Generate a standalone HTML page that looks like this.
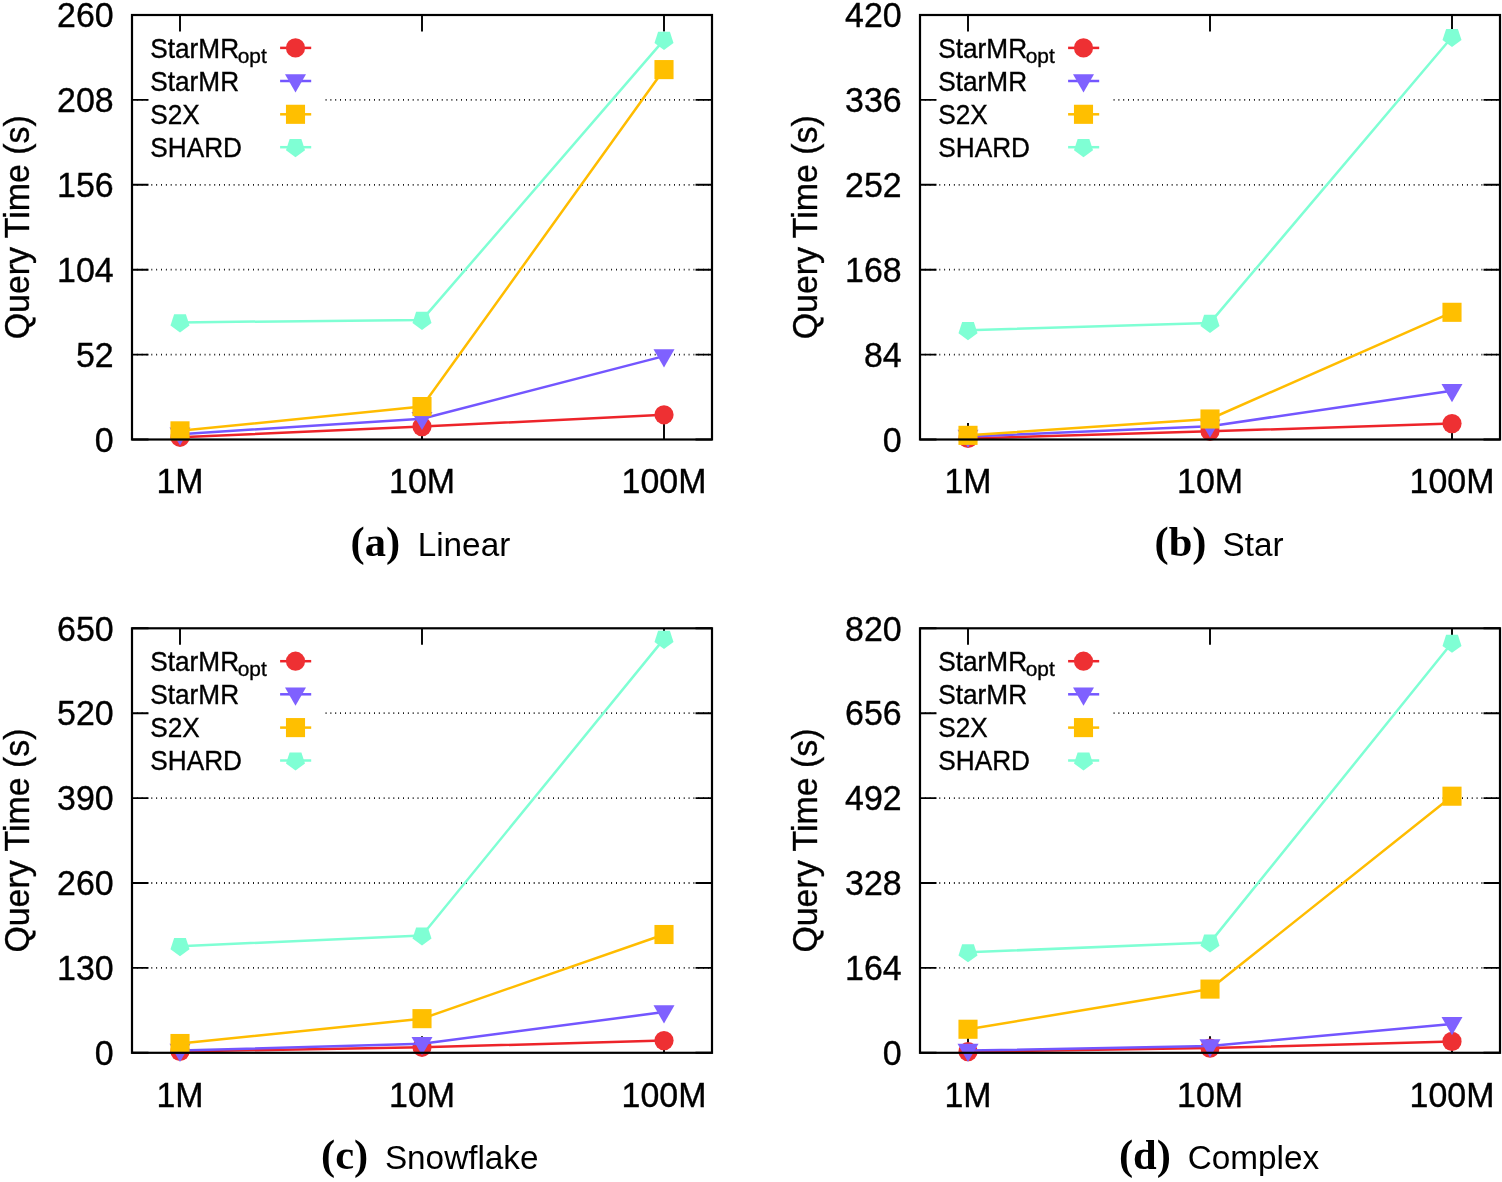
<!DOCTYPE html>
<html><head><meta charset="utf-8"><title>Query Time</title>
<style>html,body{margin:0;padding:0;background:#fff}svg{display:block}text{font-family:"Liberation Sans",sans-serif;fill:#000}text.t{stroke:#000;stroke-width:0.35px}text.cap{font-family:"Liberation Serif",serif;font-weight:bold}</style>
</head><body>
<svg width="1502" height="1182" viewBox="0 0 1502 1182">
<rect width="1502" height="1182" fill="#fff"/>
<g>
<line x1="132" y1="354.60" x2="712" y2="354.60" stroke="#000" stroke-width="1.8" stroke-dasharray="0.9 3.94" stroke-dashoffset="0"/>
<line x1="132" y1="269.70" x2="712" y2="269.70" stroke="#000" stroke-width="1.8" stroke-dasharray="0.9 3.94" stroke-dashoffset="0"/>
<line x1="132" y1="184.80" x2="712" y2="184.80" stroke="#000" stroke-width="1.8" stroke-dasharray="0.9 3.94" stroke-dashoffset="0"/>
<line x1="132" y1="99.90" x2="712" y2="99.90" stroke="#000" stroke-width="1.8" stroke-dasharray="0.9 3.94" stroke-dashoffset="0"/>
<rect x="149" y="32" width="175" height="133" fill="#fff"/>
<path d="M132 439.50h16.5M712 439.50h-16.5" stroke="#000" stroke-width="1.9" fill="none"/>
<path d="M132 354.60h16.5M712 354.60h-16.5" stroke="#000" stroke-width="1.9" fill="none"/>
<path d="M132 269.70h16.5M712 269.70h-16.5" stroke="#000" stroke-width="1.9" fill="none"/>
<path d="M132 184.80h16.5M712 184.80h-16.5" stroke="#000" stroke-width="1.9" fill="none"/>
<path d="M132 99.90h16.5M712 99.90h-16.5" stroke="#000" stroke-width="1.9" fill="none"/>
<path d="M132 15.00h16.5M712 15.00h-16.5" stroke="#000" stroke-width="1.9" fill="none"/>
<path d="M180 439.5v-16.5M180 15v16.5" stroke="#000" stroke-width="1.9" fill="none"/>
<path d="M422 439.5v-16.5M422 15v16.5" stroke="#000" stroke-width="1.9" fill="none"/>
<path d="M664 439.5v-16.5M664 15v16.5" stroke="#000" stroke-width="1.9" fill="none"/>
<path d="M180 437.30 L422 426.60 L664 414.80" stroke="#ED242A" stroke-width="2.5" fill="none" stroke-linejoin="round"/>
<circle cx="180.00" cy="437.30" r="9.6" fill="#EE3033"/>
<circle cx="422.00" cy="426.60" r="9.6" fill="#EE3033"/>
<circle cx="664.00" cy="414.80" r="9.6" fill="#EE3033"/>
<path d="M180 434.20 L422 418.70 L664 356.10" stroke="#7356FF" stroke-width="2.5" fill="none" stroke-linejoin="round"/>
<polygon points="169.50,427.40 190.50,427.40 180.00,445.60" fill="#7F61FF"/>
<polygon points="411.50,411.90 432.50,411.90 422.00,430.10" fill="#7F61FF"/>
<polygon points="653.50,349.30 674.50,349.30 664.00,367.50" fill="#7F61FF"/>
<path d="M180 430.85 L422 406.55 L664 69.60" stroke="#FFBC00" stroke-width="2.5" fill="none" stroke-linejoin="round"/>
<rect x="170.45" y="421.30" width="19.1" height="19.1" fill="#FFBF00"/>
<rect x="412.45" y="397.00" width="19.1" height="19.1" fill="#FFBF00"/>
<rect x="654.45" y="60.05" width="19.1" height="19.1" fill="#FFBF00"/>
<path d="M180 322.40 L422 319.90 L664 39.90" stroke="#7FFFD4" stroke-width="2.5" fill="none" stroke-linejoin="round"/>
<polygon points="180.00,332.40 170.49,325.49 174.12,314.31 185.88,314.31 189.51,325.49" fill="#7FFFD4"/>
<polygon points="422.00,329.90 412.49,322.99 416.12,311.81 427.88,311.81 431.51,322.99" fill="#7FFFD4"/>
<polygon points="664.00,49.90 654.49,42.99 658.12,31.81 669.88,31.81 673.51,42.99" fill="#7FFFD4"/>
<rect x="132" y="15" width="580" height="424.5" fill="none" stroke="#000" stroke-width="2.2"/>
<text class="t" transform="translate(150.3 57.85) scale(1 1.045)" font-size="26.2">StarMR</text>
<text class="t" x="237.7" y="62.60" font-size="20.9">opt</text>
<path d="M280.1 47.90h31.1" stroke="#ED242A" stroke-width="2.5" fill="none"/>
<circle cx="295.50" cy="47.90" r="9.6" fill="#EE3033"/>
<text class="t" transform="translate(150.3 90.85) scale(1 1.045)" font-size="26.2">StarMR</text>
<path d="M280.1 81.00h31.1" stroke="#7356FF" stroke-width="2.5" fill="none"/>
<polygon points="285.00,74.20 306.00,74.20 295.50,92.40" fill="#7F61FF"/>
<text class="t" transform="translate(150.3 123.80) scale(1 1.045)" font-size="26.2">S2X</text>
<path d="M280.1 114.30h31.1" stroke="#FFBC00" stroke-width="2.5" fill="none"/>
<rect x="285.95" y="104.75" width="19.1" height="19.1" fill="#FFBF00"/>
<text class="t" transform="translate(150.3 156.70) scale(1 1.045)" font-size="26.2">SHARD</text>
<path d="M280.1 147.20h31.1" stroke="#7FFFD4" stroke-width="2.5" fill="none"/>
<polygon points="295.50,157.20 285.99,150.29 289.62,139.11 301.38,139.11 305.01,150.29" fill="#7FFFD4"/>
<text class="t" transform="translate(113.6 451.70) scale(1 1.045)" font-size="33.9" text-anchor="end">0</text>
<text class="t" transform="translate(113.6 366.80) scale(1 1.045)" font-size="33.9" text-anchor="end">52</text>
<text class="t" transform="translate(113.6 281.90) scale(1 1.045)" font-size="33.9" text-anchor="end">104</text>
<text class="t" transform="translate(113.6 197.00) scale(1 1.045)" font-size="33.9" text-anchor="end">156</text>
<text class="t" transform="translate(113.6 112.10) scale(1 1.045)" font-size="33.9" text-anchor="end">208</text>
<text class="t" transform="translate(113.6 27.20) scale(1 1.045)" font-size="33.9" text-anchor="end">260</text>
<text class="t" transform="translate(180 493.40) scale(1 1.045)" font-size="33.9" text-anchor="middle">1M</text>
<text class="t" transform="translate(422 493.40) scale(1 1.045)" font-size="33.9" text-anchor="middle">10M</text>
<text class="t" transform="translate(664 493.40) scale(1 1.045)" font-size="33.9" text-anchor="middle">100M</text>
<text transform="translate(28.6 227.25) rotate(-90) scale(1 1.02)" class="t" font-size="33.9" text-anchor="middle">Query Time (s)</text>
<text x="350.5" y="555.90" font-size="42.5" class="cap">(a)</text>
<text x="417.7" y="555.90" font-size="33.3">Linear</text>
</g>
<g>
<line x1="920" y1="354.60" x2="1500" y2="354.60" stroke="#000" stroke-width="1.8" stroke-dasharray="0.9 3.94" stroke-dashoffset="0"/>
<line x1="920" y1="269.70" x2="1500" y2="269.70" stroke="#000" stroke-width="1.8" stroke-dasharray="0.9 3.94" stroke-dashoffset="0"/>
<line x1="920" y1="184.80" x2="1500" y2="184.80" stroke="#000" stroke-width="1.8" stroke-dasharray="0.9 3.94" stroke-dashoffset="0"/>
<line x1="920" y1="99.90" x2="1500" y2="99.90" stroke="#000" stroke-width="1.8" stroke-dasharray="0.9 3.94" stroke-dashoffset="0"/>
<rect x="937" y="32" width="175" height="133" fill="#fff"/>
<path d="M920 439.50h16.5M1500 439.50h-16.5" stroke="#000" stroke-width="1.9" fill="none"/>
<path d="M920 354.60h16.5M1500 354.60h-16.5" stroke="#000" stroke-width="1.9" fill="none"/>
<path d="M920 269.70h16.5M1500 269.70h-16.5" stroke="#000" stroke-width="1.9" fill="none"/>
<path d="M920 184.80h16.5M1500 184.80h-16.5" stroke="#000" stroke-width="1.9" fill="none"/>
<path d="M920 99.90h16.5M1500 99.90h-16.5" stroke="#000" stroke-width="1.9" fill="none"/>
<path d="M920 15.00h16.5M1500 15.00h-16.5" stroke="#000" stroke-width="1.9" fill="none"/>
<path d="M968 439.5v-16.5M968 15v16.5" stroke="#000" stroke-width="1.9" fill="none"/>
<path d="M1210 439.5v-16.5M1210 15v16.5" stroke="#000" stroke-width="1.9" fill="none"/>
<path d="M1452 439.5v-16.5M1452 15v16.5" stroke="#000" stroke-width="1.9" fill="none"/>
<path d="M968 438.40 L1210 431.30 L1452 423.60" stroke="#ED242A" stroke-width="2.5" fill="none" stroke-linejoin="round"/>
<circle cx="968.00" cy="438.40" r="9.6" fill="#EE3033"/>
<circle cx="1210.00" cy="431.30" r="9.6" fill="#EE3033"/>
<circle cx="1452.00" cy="423.60" r="9.6" fill="#EE3033"/>
<path d="M968 436.60 L1210 426.20 L1452 390.80" stroke="#7356FF" stroke-width="2.5" fill="none" stroke-linejoin="round"/>
<polygon points="957.50,429.80 978.50,429.80 968.00,448.00" fill="#7F61FF"/>
<polygon points="1199.50,419.40 1220.50,419.40 1210.00,437.60" fill="#7F61FF"/>
<polygon points="1441.50,384.00 1462.50,384.00 1452.00,402.20" fill="#7F61FF"/>
<path d="M968 435.35 L1210 419.00 L1452 312.30" stroke="#FFBC00" stroke-width="2.5" fill="none" stroke-linejoin="round"/>
<rect x="958.45" y="425.80" width="19.1" height="19.1" fill="#FFBF00"/>
<rect x="1200.45" y="409.45" width="19.1" height="19.1" fill="#FFBF00"/>
<rect x="1442.45" y="302.75" width="19.1" height="19.1" fill="#FFBF00"/>
<path d="M968 330.20 L1210 322.90 L1452 37.00" stroke="#7FFFD4" stroke-width="2.5" fill="none" stroke-linejoin="round"/>
<polygon points="968.00,340.20 958.49,333.29 962.12,322.11 973.88,322.11 977.51,333.29" fill="#7FFFD4"/>
<polygon points="1210.00,332.90 1200.49,325.99 1204.12,314.81 1215.88,314.81 1219.51,325.99" fill="#7FFFD4"/>
<polygon points="1452.00,47.00 1442.49,40.09 1446.12,28.91 1457.88,28.91 1461.51,40.09" fill="#7FFFD4"/>
<rect x="920" y="15" width="580" height="424.5" fill="none" stroke="#000" stroke-width="2.2"/>
<text class="t" transform="translate(938.3 57.85) scale(1 1.045)" font-size="26.2">StarMR</text>
<text class="t" x="1025.7" y="62.60" font-size="20.9">opt</text>
<path d="M1068.1 47.90h31.1" stroke="#ED242A" stroke-width="2.5" fill="none"/>
<circle cx="1083.50" cy="47.90" r="9.6" fill="#EE3033"/>
<text class="t" transform="translate(938.3 90.85) scale(1 1.045)" font-size="26.2">StarMR</text>
<path d="M1068.1 81.00h31.1" stroke="#7356FF" stroke-width="2.5" fill="none"/>
<polygon points="1073.00,74.20 1094.00,74.20 1083.50,92.40" fill="#7F61FF"/>
<text class="t" transform="translate(938.3 123.80) scale(1 1.045)" font-size="26.2">S2X</text>
<path d="M1068.1 114.30h31.1" stroke="#FFBC00" stroke-width="2.5" fill="none"/>
<rect x="1073.95" y="104.75" width="19.1" height="19.1" fill="#FFBF00"/>
<text class="t" transform="translate(938.3 156.70) scale(1 1.045)" font-size="26.2">SHARD</text>
<path d="M1068.1 147.20h31.1" stroke="#7FFFD4" stroke-width="2.5" fill="none"/>
<polygon points="1083.50,157.20 1073.99,150.29 1077.62,139.11 1089.38,139.11 1093.01,150.29" fill="#7FFFD4"/>
<text class="t" transform="translate(901.6 451.70) scale(1 1.045)" font-size="33.9" text-anchor="end">0</text>
<text class="t" transform="translate(901.6 366.80) scale(1 1.045)" font-size="33.9" text-anchor="end">84</text>
<text class="t" transform="translate(901.6 281.90) scale(1 1.045)" font-size="33.9" text-anchor="end">168</text>
<text class="t" transform="translate(901.6 197.00) scale(1 1.045)" font-size="33.9" text-anchor="end">252</text>
<text class="t" transform="translate(901.6 112.10) scale(1 1.045)" font-size="33.9" text-anchor="end">336</text>
<text class="t" transform="translate(901.6 27.20) scale(1 1.045)" font-size="33.9" text-anchor="end">420</text>
<text class="t" transform="translate(968 493.40) scale(1 1.045)" font-size="33.9" text-anchor="middle">1M</text>
<text class="t" transform="translate(1210 493.40) scale(1 1.045)" font-size="33.9" text-anchor="middle">10M</text>
<text class="t" transform="translate(1452 493.40) scale(1 1.045)" font-size="33.9" text-anchor="middle">100M</text>
<text transform="translate(816.6 227.25) rotate(-90) scale(1 1.02)" class="t" font-size="33.9" text-anchor="middle">Query Time (s)</text>
<text x="1154.5" y="555.90" font-size="42.5" class="cap">(b)</text>
<text x="1222.6" y="555.90" font-size="33.3">Star</text>
</g>
<g>
<line x1="132" y1="967.90" x2="712" y2="967.90" stroke="#000" stroke-width="1.8" stroke-dasharray="0.9 3.94" stroke-dashoffset="0"/>
<line x1="132" y1="883.00" x2="712" y2="883.00" stroke="#000" stroke-width="1.8" stroke-dasharray="0.9 3.94" stroke-dashoffset="0"/>
<line x1="132" y1="798.10" x2="712" y2="798.10" stroke="#000" stroke-width="1.8" stroke-dasharray="0.9 3.94" stroke-dashoffset="0"/>
<line x1="132" y1="713.20" x2="712" y2="713.20" stroke="#000" stroke-width="1.8" stroke-dasharray="0.9 3.94" stroke-dashoffset="0"/>
<rect x="149" y="645.3" width="175" height="133" fill="#fff"/>
<path d="M132 1052.80h16.5M712 1052.80h-16.5" stroke="#000" stroke-width="1.9" fill="none"/>
<path d="M132 967.90h16.5M712 967.90h-16.5" stroke="#000" stroke-width="1.9" fill="none"/>
<path d="M132 883.00h16.5M712 883.00h-16.5" stroke="#000" stroke-width="1.9" fill="none"/>
<path d="M132 798.10h16.5M712 798.10h-16.5" stroke="#000" stroke-width="1.9" fill="none"/>
<path d="M132 713.20h16.5M712 713.20h-16.5" stroke="#000" stroke-width="1.9" fill="none"/>
<path d="M132 628.30h16.5M712 628.30h-16.5" stroke="#000" stroke-width="1.9" fill="none"/>
<path d="M180 1052.8v-16.5M180 628.3v16.5" stroke="#000" stroke-width="1.9" fill="none"/>
<path d="M422 1052.8v-16.5M422 628.3v16.5" stroke="#000" stroke-width="1.9" fill="none"/>
<path d="M664 1052.8v-16.5M664 628.3v16.5" stroke="#000" stroke-width="1.9" fill="none"/>
<path d="M180 1051.40 L422 1047.30 L664 1040.60" stroke="#ED242A" stroke-width="2.5" fill="none" stroke-linejoin="round"/>
<circle cx="180.00" cy="1051.40" r="9.6" fill="#EE3033"/>
<circle cx="422.00" cy="1047.30" r="9.6" fill="#EE3033"/>
<circle cx="664.00" cy="1040.60" r="9.6" fill="#EE3033"/>
<path d="M180 1050.60 L422 1043.80 L664 1012.10" stroke="#7356FF" stroke-width="2.5" fill="none" stroke-linejoin="round"/>
<polygon points="169.50,1043.80 190.50,1043.80 180.00,1062.00" fill="#7F61FF"/>
<polygon points="411.50,1037.00 432.50,1037.00 422.00,1055.20" fill="#7F61FF"/>
<polygon points="653.50,1005.30 674.50,1005.30 664.00,1023.50" fill="#7F61FF"/>
<path d="M180 1043.50 L422 1018.65 L664 934.50" stroke="#FFBC00" stroke-width="2.5" fill="none" stroke-linejoin="round"/>
<rect x="170.45" y="1033.95" width="19.1" height="19.1" fill="#FFBF00"/>
<rect x="412.45" y="1009.10" width="19.1" height="19.1" fill="#FFBF00"/>
<rect x="654.45" y="924.95" width="19.1" height="19.1" fill="#FFBF00"/>
<path d="M180 946.20 L422 935.50 L664 638.90" stroke="#7FFFD4" stroke-width="2.5" fill="none" stroke-linejoin="round"/>
<polygon points="180.00,956.20 170.49,949.29 174.12,938.11 185.88,938.11 189.51,949.29" fill="#7FFFD4"/>
<polygon points="422.00,945.50 412.49,938.59 416.12,927.41 427.88,927.41 431.51,938.59" fill="#7FFFD4"/>
<polygon points="664.00,648.90 654.49,641.99 658.12,630.81 669.88,630.81 673.51,641.99" fill="#7FFFD4"/>
<rect x="132" y="628.3" width="580" height="424.5" fill="none" stroke="#000" stroke-width="2.2"/>
<text class="t" transform="translate(150.3 671.15) scale(1 1.045)" font-size="26.2">StarMR</text>
<text class="t" x="237.7" y="675.90" font-size="20.9">opt</text>
<path d="M280.1 661.20h31.1" stroke="#ED242A" stroke-width="2.5" fill="none"/>
<circle cx="295.50" cy="661.20" r="9.6" fill="#EE3033"/>
<text class="t" transform="translate(150.3 704.15) scale(1 1.045)" font-size="26.2">StarMR</text>
<path d="M280.1 694.30h31.1" stroke="#7356FF" stroke-width="2.5" fill="none"/>
<polygon points="285.00,687.50 306.00,687.50 295.50,705.70" fill="#7F61FF"/>
<text class="t" transform="translate(150.3 737.10) scale(1 1.045)" font-size="26.2">S2X</text>
<path d="M280.1 727.60h31.1" stroke="#FFBC00" stroke-width="2.5" fill="none"/>
<rect x="285.95" y="718.05" width="19.1" height="19.1" fill="#FFBF00"/>
<text class="t" transform="translate(150.3 770.00) scale(1 1.045)" font-size="26.2">SHARD</text>
<path d="M280.1 760.50h31.1" stroke="#7FFFD4" stroke-width="2.5" fill="none"/>
<polygon points="295.50,770.50 285.99,763.59 289.62,752.41 301.38,752.41 305.01,763.59" fill="#7FFFD4"/>
<text class="t" transform="translate(113.6 1065.00) scale(1 1.045)" font-size="33.9" text-anchor="end">0</text>
<text class="t" transform="translate(113.6 980.10) scale(1 1.045)" font-size="33.9" text-anchor="end">130</text>
<text class="t" transform="translate(113.6 895.20) scale(1 1.045)" font-size="33.9" text-anchor="end">260</text>
<text class="t" transform="translate(113.6 810.30) scale(1 1.045)" font-size="33.9" text-anchor="end">390</text>
<text class="t" transform="translate(113.6 725.40) scale(1 1.045)" font-size="33.9" text-anchor="end">520</text>
<text class="t" transform="translate(113.6 640.50) scale(1 1.045)" font-size="33.9" text-anchor="end">650</text>
<text class="t" transform="translate(180 1106.70) scale(1 1.045)" font-size="33.9" text-anchor="middle">1M</text>
<text class="t" transform="translate(422 1106.70) scale(1 1.045)" font-size="33.9" text-anchor="middle">10M</text>
<text class="t" transform="translate(664 1106.70) scale(1 1.045)" font-size="33.9" text-anchor="middle">100M</text>
<text transform="translate(28.6 840.55) rotate(-90) scale(1 1.02)" class="t" font-size="33.9" text-anchor="middle">Query Time (s)</text>
<text x="321.0" y="1169.00" font-size="42.5" class="cap">(c)</text>
<text x="384.90000000000003" y="1169.00" font-size="33.3">Snowflake</text>
</g>
<g>
<line x1="920" y1="967.90" x2="1500" y2="967.90" stroke="#000" stroke-width="1.8" stroke-dasharray="0.9 3.94" stroke-dashoffset="0"/>
<line x1="920" y1="883.00" x2="1500" y2="883.00" stroke="#000" stroke-width="1.8" stroke-dasharray="0.9 3.94" stroke-dashoffset="0"/>
<line x1="920" y1="798.10" x2="1500" y2="798.10" stroke="#000" stroke-width="1.8" stroke-dasharray="0.9 3.94" stroke-dashoffset="0"/>
<line x1="920" y1="713.20" x2="1500" y2="713.20" stroke="#000" stroke-width="1.8" stroke-dasharray="0.9 3.94" stroke-dashoffset="0"/>
<rect x="937" y="645.3" width="175" height="133" fill="#fff"/>
<path d="M920 1052.80h16.5M1500 1052.80h-16.5" stroke="#000" stroke-width="1.9" fill="none"/>
<path d="M920 967.90h16.5M1500 967.90h-16.5" stroke="#000" stroke-width="1.9" fill="none"/>
<path d="M920 883.00h16.5M1500 883.00h-16.5" stroke="#000" stroke-width="1.9" fill="none"/>
<path d="M920 798.10h16.5M1500 798.10h-16.5" stroke="#000" stroke-width="1.9" fill="none"/>
<path d="M920 713.20h16.5M1500 713.20h-16.5" stroke="#000" stroke-width="1.9" fill="none"/>
<path d="M920 628.30h16.5M1500 628.30h-16.5" stroke="#000" stroke-width="1.9" fill="none"/>
<path d="M968 1052.8v-16.5M968 628.3v16.5" stroke="#000" stroke-width="1.9" fill="none"/>
<path d="M1210 1052.8v-16.5M1210 628.3v16.5" stroke="#000" stroke-width="1.9" fill="none"/>
<path d="M1452 1052.8v-16.5M1452 628.3v16.5" stroke="#000" stroke-width="1.9" fill="none"/>
<path d="M968 1051.65 L1210 1048.10 L1452 1041.40" stroke="#ED242A" stroke-width="2.5" fill="none" stroke-linejoin="round"/>
<circle cx="968.00" cy="1051.65" r="9.6" fill="#EE3033"/>
<circle cx="1210.00" cy="1048.10" r="9.6" fill="#EE3033"/>
<circle cx="1452.00" cy="1041.40" r="9.6" fill="#EE3033"/>
<path d="M968 1050.60 L1210 1046.00 L1452 1023.90" stroke="#7356FF" stroke-width="2.5" fill="none" stroke-linejoin="round"/>
<polygon points="957.50,1043.80 978.50,1043.80 968.00,1062.00" fill="#7F61FF"/>
<polygon points="1199.50,1039.20 1220.50,1039.20 1210.00,1057.40" fill="#7F61FF"/>
<polygon points="1441.50,1017.10 1462.50,1017.10 1452.00,1035.30" fill="#7F61FF"/>
<path d="M968 1029.25 L1210 989.10 L1452 796.20" stroke="#FFBC00" stroke-width="2.5" fill="none" stroke-linejoin="round"/>
<rect x="958.45" y="1019.70" width="19.1" height="19.1" fill="#FFBF00"/>
<rect x="1200.45" y="979.55" width="19.1" height="19.1" fill="#FFBF00"/>
<rect x="1442.45" y="786.65" width="19.1" height="19.1" fill="#FFBF00"/>
<path d="M968 952.30 L1210 942.60 L1452 642.80" stroke="#7FFFD4" stroke-width="2.5" fill="none" stroke-linejoin="round"/>
<polygon points="968.00,962.30 958.49,955.39 962.12,944.21 973.88,944.21 977.51,955.39" fill="#7FFFD4"/>
<polygon points="1210.00,952.60 1200.49,945.69 1204.12,934.51 1215.88,934.51 1219.51,945.69" fill="#7FFFD4"/>
<polygon points="1452.00,652.80 1442.49,645.89 1446.12,634.71 1457.88,634.71 1461.51,645.89" fill="#7FFFD4"/>
<rect x="920" y="628.3" width="580" height="424.5" fill="none" stroke="#000" stroke-width="2.2"/>
<text class="t" transform="translate(938.3 671.15) scale(1 1.045)" font-size="26.2">StarMR</text>
<text class="t" x="1025.7" y="675.90" font-size="20.9">opt</text>
<path d="M1068.1 661.20h31.1" stroke="#ED242A" stroke-width="2.5" fill="none"/>
<circle cx="1083.50" cy="661.20" r="9.6" fill="#EE3033"/>
<text class="t" transform="translate(938.3 704.15) scale(1 1.045)" font-size="26.2">StarMR</text>
<path d="M1068.1 694.30h31.1" stroke="#7356FF" stroke-width="2.5" fill="none"/>
<polygon points="1073.00,687.50 1094.00,687.50 1083.50,705.70" fill="#7F61FF"/>
<text class="t" transform="translate(938.3 737.10) scale(1 1.045)" font-size="26.2">S2X</text>
<path d="M1068.1 727.60h31.1" stroke="#FFBC00" stroke-width="2.5" fill="none"/>
<rect x="1073.95" y="718.05" width="19.1" height="19.1" fill="#FFBF00"/>
<text class="t" transform="translate(938.3 770.00) scale(1 1.045)" font-size="26.2">SHARD</text>
<path d="M1068.1 760.50h31.1" stroke="#7FFFD4" stroke-width="2.5" fill="none"/>
<polygon points="1083.50,770.50 1073.99,763.59 1077.62,752.41 1089.38,752.41 1093.01,763.59" fill="#7FFFD4"/>
<text class="t" transform="translate(901.6 1065.00) scale(1 1.045)" font-size="33.9" text-anchor="end">0</text>
<text class="t" transform="translate(901.6 980.10) scale(1 1.045)" font-size="33.9" text-anchor="end">164</text>
<text class="t" transform="translate(901.6 895.20) scale(1 1.045)" font-size="33.9" text-anchor="end">328</text>
<text class="t" transform="translate(901.6 810.30) scale(1 1.045)" font-size="33.9" text-anchor="end">492</text>
<text class="t" transform="translate(901.6 725.40) scale(1 1.045)" font-size="33.9" text-anchor="end">656</text>
<text class="t" transform="translate(901.6 640.50) scale(1 1.045)" font-size="33.9" text-anchor="end">820</text>
<text class="t" transform="translate(968 1106.70) scale(1 1.045)" font-size="33.9" text-anchor="middle">1M</text>
<text class="t" transform="translate(1210 1106.70) scale(1 1.045)" font-size="33.9" text-anchor="middle">10M</text>
<text class="t" transform="translate(1452 1106.70) scale(1 1.045)" font-size="33.9" text-anchor="middle">100M</text>
<text transform="translate(816.6 840.55) rotate(-90) scale(1 1.02)" class="t" font-size="33.9" text-anchor="middle">Query Time (s)</text>
<text x="1118.9" y="1169.00" font-size="42.5" class="cap">(d)</text>
<text x="1187.8" y="1169.00" font-size="33.3">Complex</text>
</g>
</svg>
</body></html>
